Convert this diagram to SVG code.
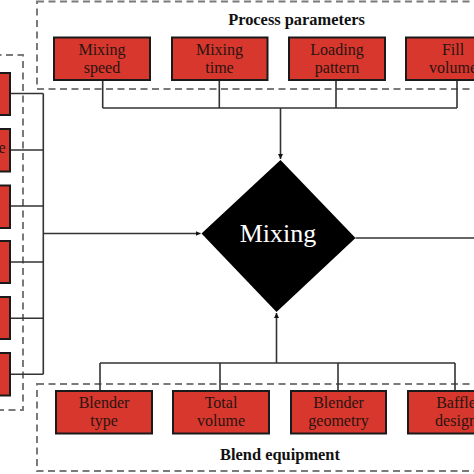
<svg xmlns="http://www.w3.org/2000/svg" width="474" height="474" viewBox="0 0 474 474">
<defs>
<style>
.grp{fill:none;stroke:#7a7a7a;stroke-width:2;stroke-dasharray:7 4.5}
.box{fill:#d8372e;stroke:#1a1a1a;stroke-width:2}
.lbl{font-family:"Liberation Serif","Times New Roman",serif;font-size:16px;fill:#2a1410;text-anchor:middle}
.ttl{font-family:"Liberation Serif","Times New Roman",serif;font-size:16.4px;font-weight:bold;fill:#111;text-anchor:middle}
.con{fill:none;stroke:#333;stroke-width:1.6}
</style>
<marker id="arr" viewBox="0 0 10 10" refX="10" refY="5" markerWidth="5" markerHeight="5" orient="auto" markerUnits="userSpaceOnUse">
<path d="M0,0 L10,5 L0,10 z" fill="#111"/>
</marker>
</defs>
<rect width="474" height="474" fill="#ffffff"/>

<g id="group-process">
<rect class="grp" x="37" y="1.5" width="460" height="87.5"/>
<text class="ttl" x="296.5" y="25">Process parameters</text>
</g>
<g id="group-equipment">
<rect class="grp" x="37" y="384" width="460" height="87"/>
<text class="ttl" x="280" y="460">Blend equipment</text>
</g>
<g id="group-left">
<rect class="grp" x="-40" y="55" width="63" height="355"/>
</g>

<g id="connectors">
<path class="con" d="M102.7,80 V108 M219.3,80 V108 M336,80 V108 M457,80 V108 M102.7,108 H457"/>
<path class="con" d="M280.5,108 V159" marker-end="url(#arr)"/>
<path class="con" d="M100,391 V363 M220,391 V363 M338,391 V363 M455,391 V363 M100,363 H455"/>
<path class="con" d="M276.5,363 V313" marker-end="url(#arr)"/>
<path class="con" d="M10,93.5 H43.3 M10,150 H43.3 M10,206 H43.3 M10,262 H43.3 M10,318.3 H43.3 M10,374.3 H43.3 M43.3,93.5 V374.3"/>
<path class="con" d="M43.3,233.5 H200.5" marker-end="url(#arr)"/>
<path class="con" d="M355.5,238 H474"/>
</g>

<g id="node-mixing">
<polygon points="280.5,160 355.5,238 276.5,312 201.5,233.5" fill="#000"/>
<text x="278" y="242" font-family="'Liberation Serif','Times New Roman',serif" font-size="26" fill="#ffffff" text-anchor="middle">Mixing</text>
</g>

<g id="node-mixing-speed">
<rect class="box" x="54" y="37.5" width="96" height="42.5"/>
<text class="lbl" x="102" y="55">Mixing</text><text class="lbl" x="102" y="73">speed</text>
</g>
<g id="node-mixing-time">
<rect class="box" x="172" y="37.5" width="95.5" height="42.5"/>
<text class="lbl" x="219.5" y="55">Mixing</text><text class="lbl" x="219.5" y="73">time</text>
</g>
<g id="node-loading-pattern">
<rect class="box" x="289" y="37.5" width="96" height="42.5"/>
<text class="lbl" x="337" y="55">Loading</text><text class="lbl" x="337" y="73">pattern</text>
</g>
<g id="node-fill-volume">
<rect class="box" x="406" y="37.5" width="96" height="42.5"/>
<text class="lbl" x="453" y="55">Fill</text><text class="lbl" x="453" y="73">volume</text>
</g>

<g id="node-blender-type">
<rect class="box" x="56" y="391" width="96" height="42.5"/>
<text class="lbl" x="104" y="407.5">Blender</text><text class="lbl" x="104" y="426">type</text>
</g>
<g id="node-total-volume">
<rect class="box" x="173" y="391" width="96" height="42.5"/>
<text class="lbl" x="221" y="407.5">Total</text><text class="lbl" x="221" y="426">volume</text>
</g>
<g id="node-blender-geometry">
<rect class="box" x="291" y="391" width="95" height="42.5"/>
<text class="lbl" x="338.5" y="407.5">Blender</text><text class="lbl" x="338.5" y="426">geometry</text>
</g>
<g id="node-baffle-design">
<rect class="box" x="408" y="391" width="96" height="42.5"/>
<text class="lbl" x="456" y="407.5">Baffle</text><text class="lbl" x="456" y="426">design</text>
</g>

<g id="node-left-1"><rect class="box" x="-86" y="73" width="96" height="42"/></g>
<g id="node-left-2"><rect class="box" x="-86" y="129" width="96" height="42.5"/>
<text class="lbl" x="5.5" y="153" style="text-anchor:end">e</text></g>
<g id="node-left-3"><rect class="box" x="-86" y="185.5" width="96" height="42.5"/></g>
<g id="node-left-4"><rect class="box" x="-86" y="241" width="96" height="42"/></g>
<g id="node-left-5"><rect class="box" x="-86" y="297" width="96" height="42"/></g>
<g id="node-left-6"><rect class="box" x="-86" y="353" width="96" height="42.5"/></g>
</svg>
